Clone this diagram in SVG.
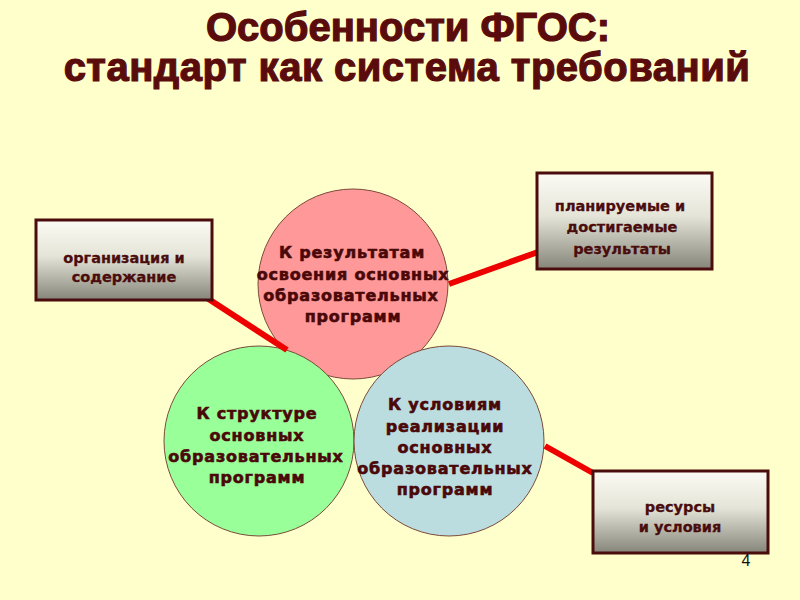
<svg xmlns="http://www.w3.org/2000/svg" width="800" height="600" viewBox="0 0 800 600">
<defs>
<linearGradient id="boxg" x1="0" y1="0" x2="0" y2="1">
<stop offset="0" stop-color="#fbfbf4"/>
<stop offset="0.45" stop-color="#e4e4d8"/>
<stop offset="1" stop-color="#85857a"/>
</linearGradient>
</defs>
<style>
.title{font-family:"Liberation Sans",Arial,sans-serif;font-weight:bold;font-size:40px;fill:#5a0c0c;stroke:#5a0c0c;stroke-width:1.2px;text-anchor:middle}
.box{fill:url(#boxg);stroke:#4a0c0c;stroke-width:3}
.btxt{font-family:"DejaVu Sans",Verdana,sans-serif;font-weight:bold;font-size:14.5px;fill:#4a0c0c;stroke:#4a0c0c;stroke-width:0.3px;text-anchor:middle}
.circ{stroke:#7a4a3a;stroke-width:1}
.ctxt{font-family:"DejaVu Sans",Verdana,sans-serif;font-weight:bold;font-size:16px;letter-spacing:0.8px;fill:#4a0808;stroke:#4a0808;stroke-width:0.6px;text-anchor:middle}
.conn{stroke:#ee0000;stroke-width:6;stroke-linecap:butt;fill:none}
</style>
<rect x="0" y="0" width="800" height="600" fill="#ffffcc"/>
<g id="title">
<text class="title" x="408" y="41">Особенности ФГОС:</text>
<text class="title" x="407" y="81" style="letter-spacing:0.5px">стандарт как система требований</text>
</g>
<g id="node-results">
<circle class="circ" cx="353" cy="284" r="95" fill="#ff9999"/>
<text class="ctxt"><tspan x="352" y="258">К результатам</tspan><tspan x="353" y="279.5">освоения основных</tspan><tspan x="351" y="301">образовательных</tspan><tspan x="353" y="322">программ</tspan></text>
</g>
<g id="node-structure">
<circle class="circ" cx="259" cy="441" r="95" fill="#99ff99"/>
<text class="ctxt"><tspan x="257" y="419">К структуре</tspan><tspan x="257" y="441">основных</tspan><tspan x="256" y="462">образовательных</tspan><tspan x="257" y="483">программ</tspan></text>
</g>
<g id="node-conditions">
<circle class="circ" cx="449" cy="441" r="95" fill="#bbdde0"/>
<text class="ctxt"><tspan x="445" y="410">К условиям</tspan><tspan x="445" y="432">реализации</tspan><tspan x="445" y="453">основных</tspan><tspan x="445" y="474">образовательных</tspan><tspan x="445" y="495">программ</tspan></text>
</g>
<g id="connectors">
<line class="conn" x1="207" y1="298" x2="287" y2="350"/>
<line class="conn" x1="449" y1="284" x2="538" y2="252"/>
<line class="conn" x1="545" y1="446" x2="593" y2="473"/>
</g>
<g id="box-org">
<rect class="box" x="36" y="220" width="176" height="80"/>
<text class="btxt"><tspan x="124" y="263">организация и</tspan><tspan x="124" y="282">содержание</tspan></text>
</g>
<g id="box-planned">
<rect class="box" x="537" y="173" width="175" height="96"/>
<text class="btxt"><tspan x="620" y="211">планируемые и</tspan><tspan x="622" y="232">достигаемые</tspan><tspan x="622" y="254">результаты</tspan></text>
</g>
<g id="box-resources">
<rect class="box" x="593" y="471" width="175" height="82"/>
<text class="btxt"><tspan x="680" y="512">ресурсы</tspan><tspan x="680" y="532">и условия</tspan></text>
</g>
<text x="746" y="566" font-family="Liberation Sans,Arial,sans-serif" font-size="16" fill="#111" text-anchor="middle">4</text>
</svg>
